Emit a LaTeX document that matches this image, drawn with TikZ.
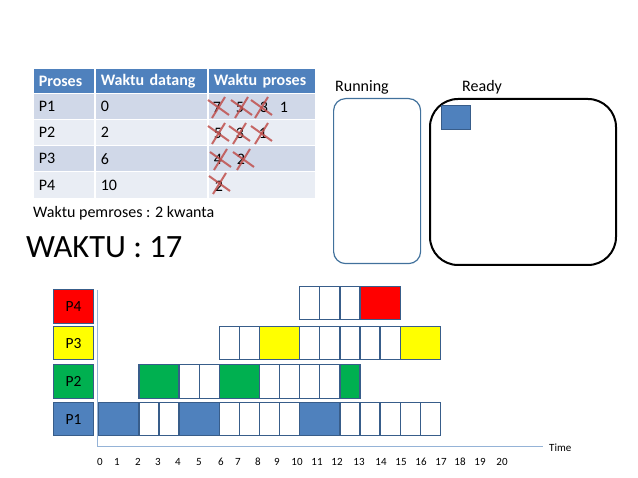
\documentclass[tikz,border=0pt]{standalone}
\usepackage{fontspec}
\setmainfont{Carlito}
\definecolor{hdrblue}{HTML}{4F81BD}
\definecolor{rowa}{HTML}{D0D8E8}
\definecolor{rowb}{HTML}{E9EDF4}
\definecolor{cellline}{HTML}{385D8A}
\definecolor{runline}{HTML}{41719C}
\definecolor{pblue}{HTML}{4F81BD}
\definecolor{pgreen}{HTML}{00B050}
\definecolor{pyellow}{HTML}{FFFF00}
\definecolor{pred}{HTML}{FF0000}
\definecolor{crossred}{HTML}{C0504D}
\definecolor{axisblue}{HTML}{95B3D7}
\begin{document}
\begin{tikzpicture}[x=1pt,y=-1pt,
  tcell/.style={draw=white, line width=1.5pt, anchor=north west, inner xsep=6pt, inner ysep=0pt, align=left, font=\fontsize{16}{19}\selectfont},
  thdr/.style={tcell, fill=hdrblue, text=white, font=\bfseries\fontsize{16}{19}\selectfont},
  digit/.style={anchor=center, inner sep=0pt, font=\fontsize{16}{19}\selectfont},
  xmark/.style={draw=crossred, opacity=0.85, line width=2pt},
  gcell/.style={draw=cellline, line width=1.3pt, anchor=north west, minimum width=20.1pt, minimum height=33pt, inner sep=0pt},
  glabel/.style={draw=cellline, line width=1.3pt, anchor=north west, minimum width=40pt, minimum height=33pt, inner sep=0pt, font=\fontsize{15.5}{18}\selectfont},
  tick/.style={inner sep=0pt, font=\fontsize{11}{13}\selectfont},
  plain/.style={inner sep=0pt, anchor=west}
]
\useasboundingbox (0,0) rectangle (638,478);

% ---------- table ----------
\node[thdr, text width=50pt, minimum height=25pt] (h1) at (32,68) {Proses};
\node[thdr, text width=101pt, minimum height=25pt] (h2) at (94,68) {Waktu datang};
\node[thdr, text width=96pt, minimum height=25pt] (h3) at (207,68) {Waktu proses};
\foreach \r/\y/\h/\c/\p/\d in {1/93/26/rowa/P1/0, 2/119/26/rowb/P2/2, 3/145/26/rowa/P3/6, 4/171/27/rowb/P4/10}{
  \node[tcell, fill=\c, text width=50pt, minimum height=\h pt] (r\r c1) at (32,\y) {\p};
  \node[tcell, fill=\c, text width=101pt, minimum height=\h pt] (r\r c2) at (94,\y) {\d};
  \node[tcell, fill=\c, text width=96pt, minimum height=\h pt] (r\r c3) at (207,\y) {};
}
% remaining times
\node[digit] (d11) at (217,107) {7};
\node[digit] (d12) at (240,107) {5};
\node[digit] (d13) at (264,107) {3};
\node[digit] (d14) at (284,107) {1};
\node[digit] (d21) at (218,133) {5};
\node[digit] (d22) at (240,133) {3};
\node[digit] (d23) at (263,133) {1};
\node[digit] (d31) at (218,159) {4};
\node[digit] (d32) at (241,159) {2};
\node[digit] (d41) at (219,186) {2};
% crosses
\foreach \cx/\cy in {218/107, 241/107, 261/107, 218/133, 239/133, 261/133, 220/159, 243/159, 219/183}{
  \draw[xmark] (\cx-10,\cy-7) -- (\cx+11,\cy+8);
  \draw[xmark] (\cx+7,\cy-10) -- (\cx-6,\cy+11);
}
\node[plain, font=\fontsize{16}{19}\selectfont] (quant) at (33,213) {Waktu pemroses : 2 kwanta};
\node[plain, font=\fontsize{32.5}{36}\selectfont] (waktu) at (26,247) {WAKTU : 17};

% ---------- running / ready ----------
\node[plain, font=\fontsize{16}{19}\selectfont] (runlbl) at (335,87) {Running};
\node[plain, font=\fontsize{16}{19}\selectfont] (readylbl) at (462,87) {Ready};
\node[draw=runline, line width=1.2pt, rounded corners=12pt, anchor=north west, minimum width=87pt, minimum height=165pt, inner sep=0pt] (running) at (333,98) {};
\node[draw=black, line width=2pt, rounded corners=28pt, anchor=north west, minimum width=186pt, minimum height=166pt, inner sep=0pt] (ready) at (429,98) {};
\node[fill=pblue, draw=cellline, line width=1pt, anchor=north west, minimum width=29pt, minimum height=24pt, inner sep=0pt] (rq1) at (441,105) {};

% ---------- gantt ----------
\node[glabel, fill=pred, minimum height=34pt] (L4) at (53,289) {P4};
\node[glabel, fill=pyellow] (L3) at (53,326) {P3};
\node[glabel, fill=pgreen, minimum height=34pt] (L2) at (53,364) {P2};
\node[glabel, fill=pblue] (L1) at (53,402) {P1};

% P1 row
\foreach \t/\f in {0/pblue,1/pblue,2/white,3/white,4/pblue,5/pblue,6/white,7/white,8/white,9/white,10/pblue,11/pblue,12/white,13/white,14/white,15/white,16/white}{
  \node[gcell, fill=\f, draw=\f] (p1f\t) at (98+20.1*\t,402) {};
}
\foreach \a/\b/\n in {0/2/a,2/3/b,3/4/c,4/6/d,6/7/e,7/8/f,8/9/g,9/10/h,10/12/i,12/13/j,13/14/k,14/15/l,15/16/m,16/17/n}{
  \node[gcell, minimum width=20.1*(\b-\a)*1pt] (p1\n) at (98+20.1*\a,402) {};
}
% P2 row
\foreach \t/\f in {2/pgreen,3/pgreen,6/pgreen,7/pgreen,12/pgreen}{
  \node[gcell, fill=\f, draw=\f, minimum height=34pt] (p2f\t) at (98+20.1*\t,364) {};
}
\foreach \a/\b/\n in {2/4/a,4/5/b,5/6/c,6/8/d,8/9/e,9/10/f,10/11/g,11/12/h,12/13/i}{
  \node[gcell, minimum width=20.1*(\b-\a)*1pt, minimum height=34pt] (p2\n) at (98+20.1*\a,364) {};
}
% P3 row
\foreach \t in {8,9,15,16}{
  \node[gcell, fill=pyellow, draw=pyellow] (p3f\t) at (98+20.1*\t,326) {};
}
\foreach \a/\b/\n in {6/7/a,7/8/b,8/10/c,10/11/d,11/12/e,12/13/f,13/14/g,14/15/h,15/17/i}{
  \node[gcell, minimum width=20.1*(\b-\a)*1pt] (p3\n) at (98+20.1*\a,326) {};
}
% P4 row
\foreach \t in {13,14}{
  \node[gcell, fill=pred, draw=pred] (p4f\t) at (98+20.1*\t,286) {};
}
\foreach \a/\b/\n in {10/11/a,11/12/b,12/13/c,13/15/d}{
  \node[gcell, minimum width=20.1*(\b-\a)*1pt] (p4\n) at (98+20.1*\a,286) {};
}

% axes
\coordinate (ytop) at (97,290);
\coordinate (orig) at (97,447);
\coordinate (xend) at (543,447);
\draw[axisblue, line width=1pt] (ytop) -- (orig) -- (xend);
\node[plain, font=\fontsize{11}{13}\selectfont] (timelbl) at (549,448) {Time};
\foreach \v/\x in {0/100,1/117,2/138,3/158,4/178,5/199,6/221,7/238,8/258,9/277,10/297,11/317,12/337,13/359,14/381,15/401,16/421,17/441,18/460,19/480,20/502}{
  \node[tick] (tk\v) at (\x,462) {\v};
}
\end{tikzpicture}
\end{document}
